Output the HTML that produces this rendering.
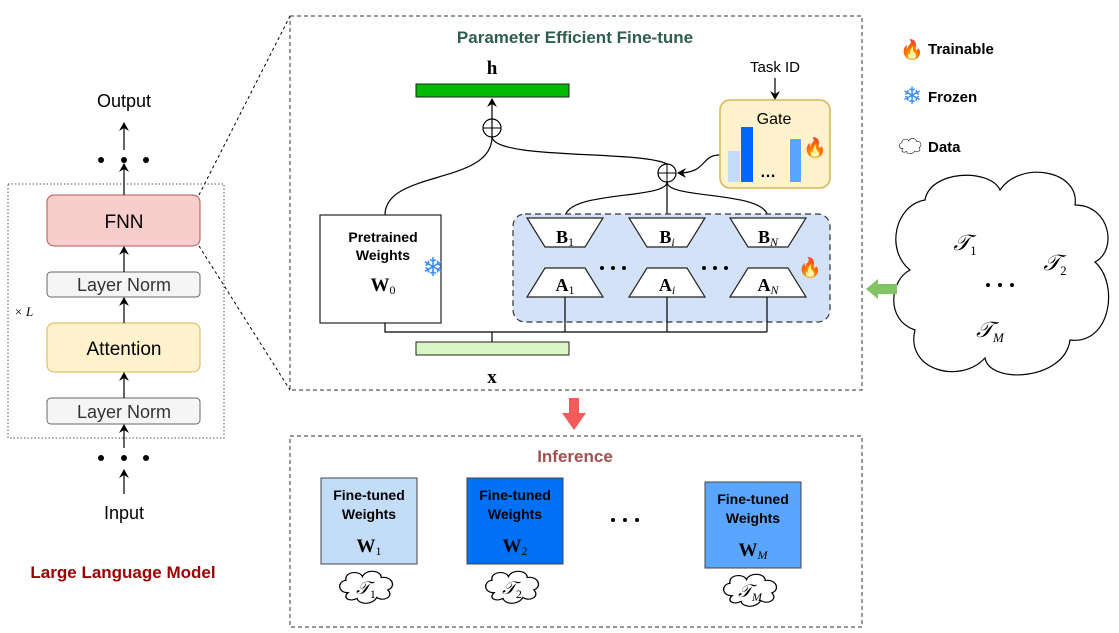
<!DOCTYPE html>
<html><head><meta charset="utf-8"><style>
html,body{margin:0;padding:0;background:#fff}
svg{display:block}
text{font-family:"Liberation Sans",sans-serif}
.s,.s text{font-family:"Liberation Serif",serif}
</style></head><body>
<svg width="1119" height="633" viewBox="0 0 1119 633" xmlns="http://www.w3.org/2000/svg">
<defs>
<marker id="ar" markerWidth="10" markerHeight="10" refX="8" refY="5" orient="auto" markerUnits="userSpaceOnUse"><path d="M0,0 L9,5 L0,10 L3,5 z" fill="#000"/></marker>
<g id="cloud"><path d="M-18,6 C-28,6 -28,-6 -20,-7 C-22,-16 -8,-18 -5,-11 C-2,-19 12,-18 12,-10 C22,-12 26,0 18,3 C24,10 14,16 8,11 C4,19 -8,19 -10,12 C-16,16 -24,12 -18,6 z" fill="#fff" stroke="#000" stroke-width="1.2"/></g>
</defs>

<!-- left LLM -->
<rect x="8" y="184" width="216" height="254" fill="none" stroke="#555" stroke-dasharray="1.5,2"/>
<rect x="47" y="195" width="153" height="51" rx="7" fill="#f8cecc" stroke="#b85450"/>
<text x="124" y="228" font-size="19" text-anchor="middle">FNN</text>
<rect x="47" y="272" width="153" height="25" rx="4" fill="#f5f5f5" stroke="#666"/>
<text x="124" y="291" font-size="18" text-anchor="middle" fill="#333">Layer Norm</text>
<rect x="47" y="323" width="153" height="49" rx="7" fill="#fff2cc" stroke="#d6b656"/>
<text x="124" y="355" font-size="19" text-anchor="middle">Attention</text>
<rect x="47" y="398" width="153" height="26" rx="4" fill="#f5f5f5" stroke="#666"/>
<text x="124" y="418" font-size="18" text-anchor="middle" fill="#333">Layer Norm</text>
<g stroke="#000" stroke-width="1.2" marker-end="url(#ar)">
<line x1="124" y1="150" x2="124" y2="123"/>
<line x1="124" y1="195" x2="124" y2="164"/>
<line x1="124" y1="272" x2="124" y2="247"/>
<line x1="124" y1="323" x2="124" y2="298"/>
<line x1="124" y1="398" x2="124" y2="373"/>
<line x1="124" y1="448" x2="124" y2="425"/>
<line x1="124" y1="494" x2="124" y2="470"/>
</g>
<g fill="#000"><circle cx="101" cy="160" r="3"/><circle cx="124" cy="160" r="3"/><circle cx="146" cy="160" r="3"/>
<circle cx="101" cy="458" r="3"/><circle cx="124" cy="458" r="3"/><circle cx="146" cy="458" r="3"/></g>
<text x="124" y="107" font-size="18" text-anchor="middle">Output</text>
<text x="124" y="519" font-size="18" text-anchor="middle">Input</text>
<text x="14" y="316" font-size="13" class="s" font-style="italic">× L</text>
<text x="123" y="578" font-size="17" font-weight="bold" fill="#990000" text-anchor="middle">Large Language Model</text>
<line x1="199" y1="195" x2="290" y2="16" stroke="#000" stroke-dasharray="3,3"/>
<line x1="199" y1="246" x2="290" y2="390" stroke="#000" stroke-dasharray="3,3"/>

<!-- top box -->
<rect x="290" y="16" width="572" height="374" fill="none" stroke="#333" stroke-dasharray="4,3"/>
<text x="575" y="43" font-size="17" font-weight="bold" fill="#2f5d50" text-anchor="middle">Parameter Efficient Fine-tune</text>
<text x="492" y="74" font-size="19" font-weight="bold" class="s" text-anchor="middle">h</text>
<rect x="416" y="84" width="153" height="13" fill="#00bb00" stroke="#222"/>
<circle cx="492" cy="128" r="9" fill="none" stroke="#000" stroke-width="1.2"/>
<line x1="483" y1="128" x2="501" y2="128" stroke="#000"/>
<g fill="none" stroke="#000" stroke-width="1.2">
<line x1="492" y1="119" x2="492" y2="99" marker-end="url(#ar)"/>
<line x1="492" y1="119" x2="492" y2="137"/>
<path d="M385,215 C385,170 492,185 492,137"/>
<path d="M492,137 C495,160 640,150 667,164"/>
<path d="M667,182 C667,200 565,190 565,218"/>
<line x1="667" y1="182" x2="667" y2="218"/>
<path d="M667,182 C667,200 768,190 768,218"/>
<path d="M720,155 C700,155 708,173 678,173" marker-end="url(#ar)"/>
<line x1="775" y1="78" x2="775" y2="99" marker-end="url(#ar)"/>
</g>
<circle cx="667" cy="173" r="9" fill="none" stroke="#000" stroke-width="1.2"/>
<line x1="658" y1="173" x2="676" y2="173" stroke="#000"/>
<line x1="667" y1="164" x2="667" y2="182" stroke="#000"/>
<text x="775" y="72" font-size="15" text-anchor="middle">Task ID</text>
<rect x="720" y="100" width="110" height="88" rx="10" fill="#fff2cc" stroke="#d6b656" stroke-width="1.5"/>
<text x="774" y="124" font-size="16" text-anchor="middle">Gate</text>
<rect x="728" y="151" width="12" height="31" fill="#c3dcf8"/>
<rect x="741" y="127" width="12" height="55" fill="#0066ff"/>
<rect x="790" y="139" width="11" height="43" fill="#5aa5ff"/>
<text x="768" y="177" font-size="16" font-weight="bold" text-anchor="middle">…</text>
<text x="815" y="154" font-size="19" text-anchor="middle">🔥</text>

<rect x="320" y="215" width="121" height="108" fill="#fff" stroke="#222" stroke-width="1.2"/>
<text x="383" y="242" font-size="14" font-weight="bold" text-anchor="middle">Pretrained</text>
<text x="383" y="260" font-size="14" font-weight="bold" text-anchor="middle">Weights</text>
<text x="383" y="291" font-size="19" font-weight="bold" class="s" text-anchor="middle">W<tspan font-size="12" font-weight="normal" dy="3">0</tspan></text>
<text x="433" y="276" font-size="26" fill="#3b8cf5" text-anchor="middle">❄</text>

<rect x="513" y="214" width="317" height="108" rx="12" fill="#d3e2f8" stroke="#333" stroke-dasharray="6,4" stroke-width="1.2"/>
<g fill="#fff" stroke="#222" stroke-width="1.2">
<path d="M527,218 L603,218 L585,247 L545,247 z"/>
<path d="M629,218 L705,218 L687,247 L647,247 z"/>
<path d="M730,218 L806,218 L788,247 L748,247 z"/>
<path d="M545,268 L585,268 L603,297 L527,297 z"/>
<path d="M647,268 L687,268 L705,297 L629,297 z"/>
<path d="M748,268 L788,268 L806,297 L730,297 z"/>
</g>
<g font-size="18" font-weight="bold" class="s" text-anchor="middle">
<text x="565" y="243">B<tspan font-size="12" font-weight="normal" dy="3">1</tspan></text>
<text x="667" y="243">B<tspan font-size="12" font-weight="normal" font-style="italic" dy="3">i</tspan></text>
<text x="768" y="243">B<tspan font-size="12" font-weight="normal" font-style="italic" dy="3">N</tspan></text>
<text x="565" y="291">A<tspan font-size="12" font-weight="normal" dy="3">1</tspan></text>
<text x="667" y="291">A<tspan font-size="12" font-weight="normal" font-style="italic" dy="3">i</tspan></text>
<text x="768" y="291">A<tspan font-size="12" font-weight="normal" font-style="italic" dy="3">N</tspan></text>
</g>
<g fill="#000"><circle cx="602" cy="268" r="2"/><circle cx="613" cy="268" r="2"/><circle cx="624" cy="268" r="2"/>
<circle cx="704" cy="268" r="2"/><circle cx="715" cy="268" r="2"/><circle cx="726" cy="268" r="2"/></g>
<text x="810" y="274" font-size="19" text-anchor="middle">🔥</text>
<g fill="none" stroke="#000" stroke-width="1.2">
<polyline points="385,323 385,332 767,332"/>
<line x1="565" y1="297" x2="565" y2="332"/>
<line x1="667" y1="297" x2="667" y2="332"/>
<line x1="767" y1="297" x2="767" y2="332"/>
<line x1="492" y1="332" x2="492" y2="342"/>
</g>
<rect x="416" y="342" width="153" height="13" fill="#d9f7c4" stroke="#222"/>
<text x="492" y="383" font-size="19" font-weight="bold" class="s" text-anchor="middle">x</text>

<!-- legend -->
<text x="912" y="56" font-size="19" text-anchor="middle">🔥</text>
<text x="928" y="54" font-size="15" font-weight="bold">Trainable</text>
<text x="912" y="104" font-size="24" fill="#3b8cf5" text-anchor="middle">❄</text>
<text x="928" y="102" font-size="15" font-weight="bold">Frozen</text>
<use href="#cloud" transform="translate(911,146) scale(0.45)"/>
<text x="928" y="152" font-size="15" font-weight="bold">Data</text>

<path d="M925,200 C930,170 990,168 1000,190 C1020,160 1080,170 1075,205 C1110,205 1118,250 1095,262 C1120,285 1110,345 1070,340 C1065,380 990,385 985,358 C960,385 905,370 915,330 C885,320 890,280 910,270 C885,250 895,205 925,200 z" fill="#fff" stroke="#000" stroke-width="1.2"/>
<text x="965" y="250" font-size="22" class="s" font-style="italic" text-anchor="middle">𝒯<tspan font-size="13" font-style="normal" dy="5">1</tspan></text>
<text x="1055" y="270" font-size="22" class="s" font-style="italic" text-anchor="middle">𝒯<tspan font-size="13" font-style="normal" dy="5">2</tspan></text>
<text x="990" y="337" font-size="22" class="s" font-style="italic" text-anchor="middle">𝒯<tspan font-size="13" dy="5">M</tspan></text>
<g fill="#000"><circle cx="988" cy="285" r="2"/><circle cx="1000" cy="285" r="2"/><circle cx="1012" cy="285" r="2"/></g>
<path d="M866,289 L878,279 L878,284 L897,284 L897,294 L878,294 L878,299 z" fill="#82c366"/>
<path d="M569,398 L579,398 L579,413 L586,413 L574,430 L562,413 L569,413 z" fill="#f35b5b"/>

<!-- bottom box -->
<rect x="290" y="436" width="572" height="191" fill="none" stroke="#333" stroke-dasharray="4,3"/>
<text x="575" y="462" font-size="17" font-weight="bold" fill="#a05250" text-anchor="middle">Inference</text>
<rect x="321" y="478" width="96" height="86" fill="#c3dcf8" stroke="#444"/>
<rect x="467" y="478" width="96" height="86" fill="#0070f5" stroke="#444"/>
<rect x="705" y="482" width="96" height="86" fill="#5aa5ff" stroke="#444"/>
<g font-size="14" font-weight="bold" text-anchor="middle">
<text x="369" y="500">Fine-tuned</text><text x="369" y="519">Weights</text>
<text x="515" y="500">Fine-tuned</text><text x="515" y="519">Weights</text>
<text x="753" y="504">Fine-tuned</text><text x="753" y="523">Weights</text>
</g>
<g font-size="19" font-weight="bold" class="s" text-anchor="middle">
<text x="369" y="552">W<tspan font-size="12" font-weight="normal" dy="3">1</tspan></text>
<text x="515" y="552">W<tspan font-size="12" font-weight="normal" dy="3">2</tspan></text>
<text x="753" y="556">W<tspan font-size="12" font-weight="normal" font-style="italic" dy="3">M</tspan></text>
</g>
<g fill="#000"><circle cx="613" cy="520" r="2"/><circle cx="625" cy="520" r="2"/><circle cx="637" cy="520" r="2"/></g>
<use href="#cloud" transform="translate(368,587) scale(1.1,0.95)"/>
<use href="#cloud" transform="translate(514,587) scale(1.1,0.95)"/>
<use href="#cloud" transform="translate(752,590) scale(1.1,0.95)"/>
<g font-size="18" class="s" font-style="italic" text-anchor="middle">
<text x="366" y="594">𝒯<tspan font-size="12" font-style="normal" dy="4">1</tspan></text>
<text x="512" y="594">𝒯<tspan font-size="12" font-style="normal" dy="4">2</tspan></text>
<text x="750" y="597">𝒯<tspan font-size="12" dy="4">M</tspan></text>
</g>
</svg>
</body></html>
